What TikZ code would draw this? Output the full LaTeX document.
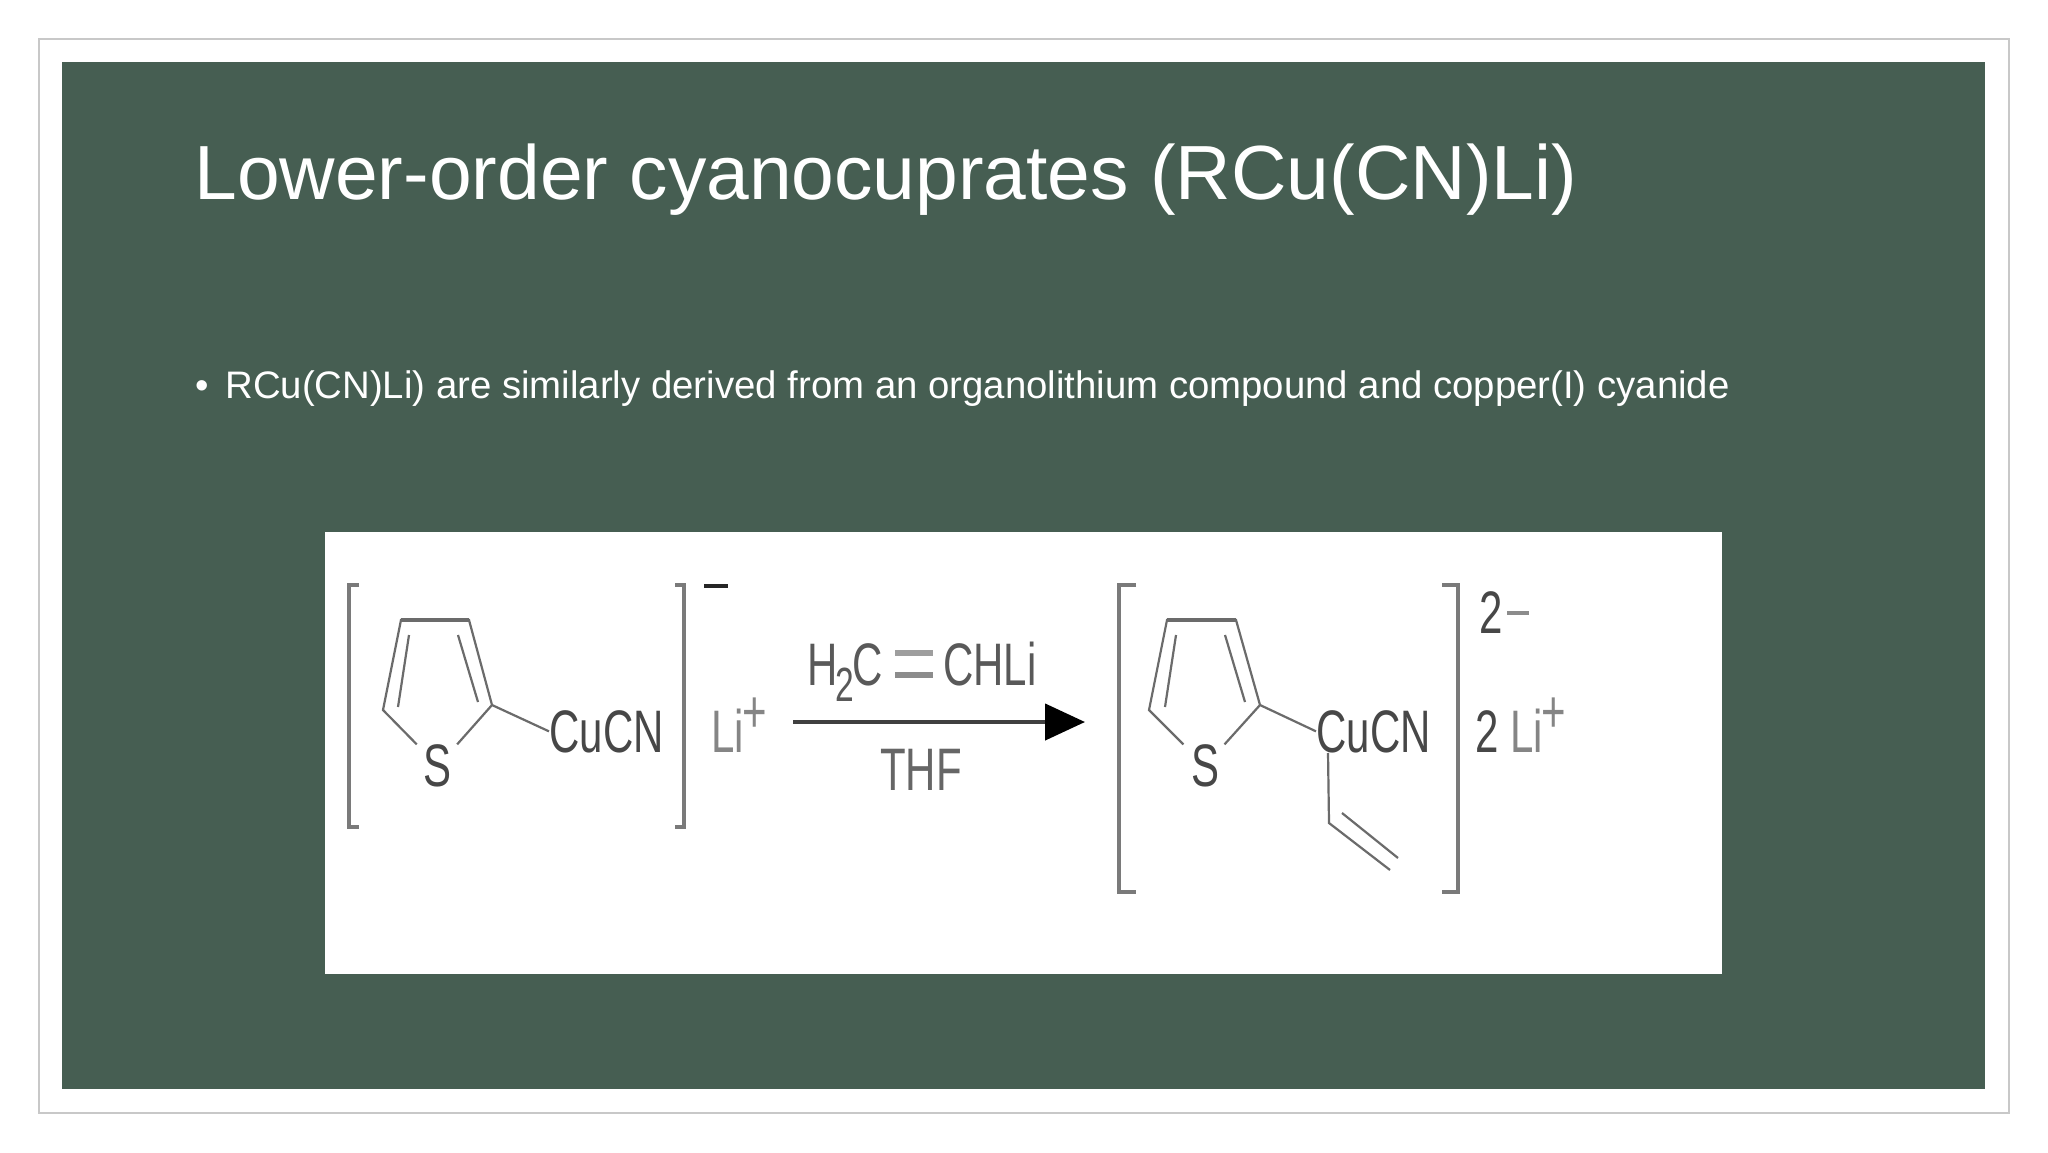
\documentclass[tikz,border=0pt]{standalone}
\usepackage{fontspec}
\setmainfont{Liberation Sans}
\newfontfamily\chemfont[FakeStretch=0.7]{Liberation Sans}
\usetikzlibrary{calc,arrows.meta}
\definecolor{slidegreen}{RGB}{70,94,82}
\definecolor{framegray}{RGB}{200,200,200}
\tikzstyle{chemlabel} = [inner sep=0pt, text=black!72, font=\chemfont\fontsize{30}{30}\selectfont]
\tikzstyle{palelabel} = [chemlabel, text=black!48]
\tikzstyle{bond} = [line width=1.1pt, black!58]
\tikzstyle{bracket} = [line width=1.6pt, black!52]
\tikzstyle{connector} = [line width=2.2pt, black!75, -{Triangle[length=20pt,width=18pt,color=black]}]
\begin{document}
\begin{tikzpicture}[x=0.5pt,y=-0.5pt]
        \useasboundingbox (0,0) rectangle (2048,1152);
        \fill [white] (0,0) rectangle (2048,1152);
        \draw [framegray, line width=0.8pt] (39,39) rectangle (2009,1113);
        \fill [slidegreen] (62,62) rectangle (1985,1089);
        \fill [white] (325,532) rectangle (1722,974);
        \node (title) [anchor=base west, inner sep=0pt, text=white, font=\fontsize{38.4}{38.4}\selectfont] at (194,199) {Lower-order cyanocuprates (RCu(CN)Li)};
        \node (bullet) [anchor=base west, inner sep=0pt, text=white, font=\fontsize{19.17}{19.17}\selectfont] at (195,398) {•};
        \node (body) [anchor=base west, inner sep=0pt, text=white, font=\fontsize{19.17}{19.17}\selectfont] at (225,398) {RCu(CN)Li) are similarly derived from an organolithium compound and copper(I) cyanide};
        \draw [bracket] (359,585) -- (349,585) -- (349,827) -- (359,827);
        \draw [bracket] (675,585) -- (684,585) -- (684,827) -- (675,827);
        \draw [black!85, line width=2.4pt] (704,586) -- (728,586);
        \coordinate (ringl) at (383,710);
        \coordinate (ringtl) at (401,620);
        \coordinate (ringtr) at (469,620);
        \coordinate (ringr) at (492,705);
        \node (sulfur) [chemlabel, minimum width=26pt] at (438,766) {S};
        \node (cucn) [chemlabel, anchor=base west] at (549,752) {CuCN};
        \draw [bond] (sulfur) -- (ringl) -- (ringtl) -- (ringtr) -- (ringr) -- (sulfur);
        \draw [bond] (409,635) -- (398,707);
        \draw [bond] (458,635) -- (478,702);
        \draw [bond, line width=1.8pt] (ringtl) -- (ringtr);
        \draw [bond] (ringr) -- (cucn.west);
        \node (liplus) [palelabel, anchor=base west] at (711,752) {Li\kern-1pt\raisebox{10pt}{+}};
        \node (h2c) [palelabel, text=black!65, anchor=base west] at (807,685) {H\kern-1pt\raisebox{-8pt}{\fontsize{24}{24}\selectfont 2}\kern-1ptC};
        \node (chli) [palelabel, text=black!65, anchor=base east] at (1037,685) {CHLi};
        \draw [black!38, line width=3.2pt] ($(h2c.base east)+(12,-32)$) -- ($(chli.base west)+(-10,-32)$);
        \draw [black!45, line width=3.2pt] ($(h2c.base east)+(12,-10)$) -- ($(chli.base west)+(-10,-10)$);
        \coordinate (arrowstart) at (793,722);
        \coordinate (arrowend) at (1085,722);
        \draw [connector] (arrowstart) -- (arrowend);
        \node (thf) [palelabel, text=black!60, anchor=base] at (921,790) {THF};
        \draw [bracket] (1136,585) -- (1119,585) -- (1119,892) -- (1136,892);
        \draw [bracket] (1442,585) -- (1458,585) -- (1458,892) -- (1442,892);
        \coordinate (ringl2) at (1149,710);
        \coordinate (ringtl2) at (1167,620);
        \coordinate (ringtr2) at (1236,620);
        \coordinate (ringr2) at (1260,705);
        \node (sulfur2) [chemlabel, minimum width=26pt] at (1205,766) {S};
        \node (cucn2) [chemlabel, anchor=base west] at (1316,752) {CuCN};
        \draw [bond] (sulfur2) -- (ringl2) -- (ringtl2) -- (ringtr2) -- (ringr2) -- (sulfur2);
        \draw [bond] (1176,635) -- (1165,707);
        \draw [bond] (1225,635) -- (1245,702);
        \draw [bond, line width=1.8pt] (ringtl2) -- (ringtr2);
        \draw [bond] (ringr2) -- (cucn2.west);
        \coordinate (vinyla) at (1329,823);
        \coordinate (vinylb) at (1390,870);
        \draw [bond] ($(cucn2.south west)+(12,0)$) -- (vinyla) -- (vinylb);
        \draw [bond] (1342,813) -- (1398,858);
        \node (charge) [chemlabel, anchor=base west] at (1479,633) {2};
        \draw [black!45, line width=1.6pt] (1507,613) -- (1529,613);
        \node (twoli) [palelabel, anchor=base west] at (1475,752) {\textcolor{black!72}{2} Li\kern-1pt\raisebox{10pt}{+}};
    \end{tikzpicture}
\end{document}
